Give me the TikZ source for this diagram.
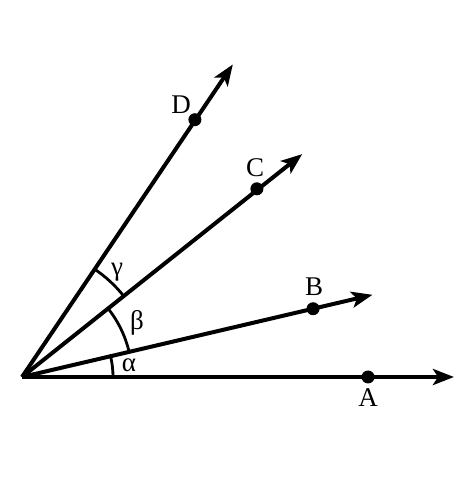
\documentclass[tikz,border=0pt]{standalone}
\usepackage{fontspec}
\setmainfont{Liberation Serif}
\usetikzlibrary{arrows.meta}
\tikzset{
  ray/.style={line width=4pt,-{Stealth[length=21pt,width=16pt,inset=5pt]}},
  dot/.style={circle,fill=black,inner sep=0pt,minimum size=13pt},
  lbl/.style={font=\fontsize{27}{32}\selectfont,inner sep=0pt},
  angarc/.style={line width=2.8pt}
}
\begin{document}
\begin{tikzpicture}[x=1pt,y=1pt]
  \useasboundingbox (-22,-125) rectangle (452,377);
  \coordinate (O) at (0,0);
  \draw
    (0:432) coordinate (tipA)
    (13.2:360) coordinate (tipB)
    (38.5:358) coordinate (tipC)
    (56:377) coordinate (tipD);
  \draw
    (0:346) node[dot] (A){}
    (13.2:299) node[dot] (B){}
    (38.7:301) node[dot] (C){}
    (56.1:310) node[dot] (D){};
  \begin{scope}[ray]
    \draw (O) to (tipA);
    \draw (O) to (tipB);
    \draw (O) to (tipC);
    \draw (O) to (tipD);
  \end{scope}
  \draw[angarc] (0:91) arc[start angle=0,end angle=13.2,radius=91];
  \draw[angarc] (13.2:110) arc[start angle=13.2,end angle=38.6,radius=110];
  \draw[angarc] (38.6:130) arc[start angle=38.6,end angle=56.1,radius=130];
  \node[lbl] (lA) at (346,-21) {A};
  \node[lbl] (lB) at (292,90) {B};
  \node[lbl] (lC) at (233,209) {C};
  \node[lbl] (lD) at (159,272) {D};
  \node[lbl] (alpha) at (107,12) {α};
  \node[lbl] (beta) at (115,54) {β};
  \node[lbl] (gamma) at (95,105) {γ};
\end{tikzpicture}
\end{document}
